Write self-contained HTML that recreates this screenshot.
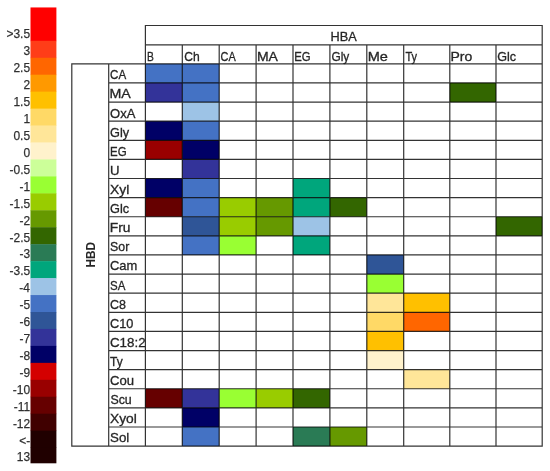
<!DOCTYPE html>
<html lang="en"><head><meta charset="utf-8"><title>HBA / HBD heat map</title>
<style>html,body{margin:0;padding:0;background:#fff}body{width:550px;height:471px;overflow:hidden}svg{display:block;filter:blur(0.4px)}text{font-family:"Liberation Sans",sans-serif;font-size:13.0px;fill:#262626;stroke:#262626;stroke-width:0.3px}.lg text{fill:#303030;stroke:#303030;stroke-width:0.25px}text.b{stroke-width:0}</style></head><body>
<svg width="550" height="471" viewBox="0 0 550 471">
<defs><filter id="soft" x="-2%" y="-2%" width="104%" height="104%"><feGaussianBlur stdDeviation="0.35"/></filter></defs>
<rect width="550" height="471" fill="#fff"/>
<g>
<rect x="30.5" y="7.45" width="25.9" height="33.75" fill="#FF0000"/>
<rect x="30.5" y="40.80" width="25.9" height="17.35" fill="#FF3D18"/>
<rect x="30.5" y="57.75" width="25.9" height="17.35" fill="#FF6600"/>
<rect x="30.5" y="74.70" width="25.9" height="17.35" fill="#FF9900"/>
<rect x="30.5" y="91.65" width="25.9" height="17.35" fill="#FFC000"/>
<rect x="30.5" y="108.60" width="25.9" height="17.35" fill="#FFD966"/>
<rect x="30.5" y="125.55" width="25.9" height="17.35" fill="#FFE699"/>
<rect x="30.5" y="142.50" width="25.9" height="17.35" fill="#FFF2CC"/>
<rect x="30.5" y="159.45" width="25.9" height="17.35" fill="#CCFF99"/>
<rect x="30.5" y="176.40" width="25.9" height="17.35" fill="#99FF33"/>
<rect x="30.5" y="193.35" width="25.9" height="17.35" fill="#99CC00"/>
<rect x="30.5" y="210.30" width="25.9" height="17.35" fill="#669900"/>
<rect x="30.5" y="227.25" width="25.9" height="17.35" fill="#336600"/>
<rect x="30.5" y="244.20" width="25.9" height="17.35" fill="#2A7B55"/>
<rect x="30.5" y="261.15" width="25.9" height="17.35" fill="#00A67C"/>
<rect x="30.5" y="278.10" width="25.9" height="17.35" fill="#9DC3E6"/>
<rect x="30.5" y="295.05" width="25.9" height="17.35" fill="#4472C4"/>
<rect x="30.5" y="312.00" width="25.9" height="17.35" fill="#2F5597"/>
<rect x="30.5" y="328.95" width="25.9" height="17.35" fill="#333399"/>
<rect x="30.5" y="345.90" width="25.9" height="17.35" fill="#000066"/>
<rect x="30.5" y="362.85" width="25.9" height="17.35" fill="#D40000"/>
<rect x="30.5" y="379.80" width="25.9" height="17.35" fill="#990000"/>
<rect x="30.5" y="396.75" width="25.9" height="17.35" fill="#660000"/>
<rect x="30.5" y="413.70" width="25.9" height="17.35" fill="#400000"/>
<rect x="30.5" y="430.65" width="25.9" height="17.35" fill="#200000"/>
<rect x="30.5" y="447.60" width="25.9" height="15.70" fill="#200000"/>
</g><g class="lg">
<text x="6.46" y="38.10" textLength="23.61" lengthAdjust="spacingAndGlyphs">&gt;3.5</text>
<text x="23.48" y="55.05" textLength="6.65" lengthAdjust="spacingAndGlyphs">3</text>
<text x="13.45" y="72.00" textLength="16.63" lengthAdjust="spacingAndGlyphs">2.5</text>
<text x="23.53" y="88.95" textLength="6.65" lengthAdjust="spacingAndGlyphs">2</text>
<text x="13.45" y="105.90" textLength="16.63" lengthAdjust="spacingAndGlyphs">1.5</text>
<text x="23.53" y="122.85" textLength="6.65" lengthAdjust="spacingAndGlyphs">1</text>
<text x="13.45" y="139.80" textLength="16.63" lengthAdjust="spacingAndGlyphs">0.5</text>
<text x="23.44" y="156.75" textLength="6.65" lengthAdjust="spacingAndGlyphs">0</text>
<text x="9.50" y="173.70" textLength="20.61" lengthAdjust="spacingAndGlyphs">-0.5</text>
<text x="19.53" y="190.65" textLength="10.63" lengthAdjust="spacingAndGlyphs">-1</text>
<text x="9.50" y="207.60" textLength="20.61" lengthAdjust="spacingAndGlyphs">-1.5</text>
<text x="19.53" y="224.55" textLength="10.63" lengthAdjust="spacingAndGlyphs">-2</text>
<text x="9.50" y="241.50" textLength="20.61" lengthAdjust="spacingAndGlyphs">-2.5</text>
<text x="19.48" y="258.45" textLength="10.63" lengthAdjust="spacingAndGlyphs">-3</text>
<text x="9.50" y="275.40" textLength="20.61" lengthAdjust="spacingAndGlyphs">-3.5</text>
<text x="19.30" y="292.35" textLength="10.63" lengthAdjust="spacingAndGlyphs">-4</text>
<text x="19.43" y="309.30" textLength="10.63" lengthAdjust="spacingAndGlyphs">-5</text>
<text x="19.48" y="326.25" textLength="10.63" lengthAdjust="spacingAndGlyphs">-6</text>
<text x="19.53" y="343.20" textLength="10.63" lengthAdjust="spacingAndGlyphs">-7</text>
<text x="19.48" y="360.15" textLength="10.63" lengthAdjust="spacingAndGlyphs">-8</text>
<text x="19.53" y="377.10" textLength="10.63" lengthAdjust="spacingAndGlyphs">-9</text>
<text x="12.81" y="394.05" textLength="17.29" lengthAdjust="spacingAndGlyphs">-10</text>
<text x="13.78" y="411.00" textLength="16.40" lengthAdjust="spacingAndGlyphs">-11</text>
<text x="12.90" y="427.95" textLength="17.29" lengthAdjust="spacingAndGlyphs">-12</text>
<text x="19.16" y="444.90" textLength="10.97" lengthAdjust="spacingAndGlyphs">&lt;-</text>
<text x="16.81" y="460.80" textLength="13.30" lengthAdjust="spacingAndGlyphs">13</text>
</g>
<g>
<rect x="145.4" y="63.85" width="36.9" height="19.11" fill="#4472C4"/>
<rect x="182.3" y="63.85" width="36.9" height="19.11" fill="#4472C4"/>
<rect x="145.4" y="82.96" width="36.9" height="19.11" fill="#333399"/>
<rect x="182.3" y="82.96" width="36.9" height="19.11" fill="#4472C4"/>
<rect x="449.8" y="82.96" width="46.2" height="19.11" fill="#336600"/>
<rect x="182.3" y="102.07" width="36.9" height="19.11" fill="#9DC3E6"/>
<rect x="145.4" y="121.19" width="36.9" height="19.11" fill="#000066"/>
<rect x="182.3" y="121.19" width="36.9" height="19.11" fill="#4472C4"/>
<rect x="145.4" y="140.30" width="36.9" height="19.11" fill="#990000"/>
<rect x="182.3" y="140.30" width="36.9" height="19.11" fill="#000066"/>
<rect x="182.3" y="159.41" width="36.9" height="19.11" fill="#333399"/>
<rect x="145.4" y="178.52" width="36.9" height="19.11" fill="#000066"/>
<rect x="182.3" y="178.52" width="36.9" height="19.11" fill="#4472C4"/>
<rect x="293.0" y="178.52" width="36.9" height="19.11" fill="#00A67C"/>
<rect x="145.4" y="197.63" width="36.9" height="19.11" fill="#660000"/>
<rect x="182.3" y="197.63" width="36.9" height="19.11" fill="#4472C4"/>
<rect x="219.2" y="197.63" width="36.9" height="19.11" fill="#99CC00"/>
<rect x="256.1" y="197.63" width="36.9" height="19.11" fill="#669900"/>
<rect x="293.0" y="197.63" width="36.9" height="19.11" fill="#00A67C"/>
<rect x="329.9" y="197.63" width="36.9" height="19.11" fill="#336600"/>
<rect x="182.3" y="216.75" width="36.9" height="19.11" fill="#2F5597"/>
<rect x="219.2" y="216.75" width="36.9" height="19.11" fill="#99CC00"/>
<rect x="256.1" y="216.75" width="36.9" height="19.11" fill="#669900"/>
<rect x="293.0" y="216.75" width="36.9" height="19.11" fill="#9DC3E6"/>
<rect x="496.0" y="216.75" width="46.2" height="19.11" fill="#336600"/>
<rect x="182.3" y="235.86" width="36.9" height="19.11" fill="#4472C4"/>
<rect x="219.2" y="235.86" width="36.9" height="19.11" fill="#99FF33"/>
<rect x="293.0" y="235.86" width="36.9" height="19.11" fill="#00A67C"/>
<rect x="366.8" y="254.97" width="36.9" height="19.11" fill="#2F5597"/>
<rect x="366.8" y="274.08" width="36.9" height="19.11" fill="#99FF33"/>
<rect x="366.8" y="293.19" width="36.9" height="19.11" fill="#FFE699"/>
<rect x="403.7" y="293.19" width="46.1" height="19.11" fill="#FFC000"/>
<rect x="366.8" y="312.31" width="36.9" height="19.11" fill="#FFD966"/>
<rect x="403.7" y="312.31" width="46.1" height="19.11" fill="#FF6600"/>
<rect x="366.8" y="331.42" width="36.9" height="19.11" fill="#FFC000"/>
<rect x="366.8" y="350.53" width="36.9" height="19.11" fill="#FFF2CC"/>
<rect x="403.7" y="369.64" width="46.1" height="19.11" fill="#FFE699"/>
<rect x="145.4" y="388.75" width="36.9" height="19.11" fill="#660000"/>
<rect x="182.3" y="388.75" width="36.9" height="19.11" fill="#333399"/>
<rect x="219.2" y="388.75" width="36.9" height="19.11" fill="#99FF33"/>
<rect x="256.1" y="388.75" width="36.9" height="19.11" fill="#99CC00"/>
<rect x="293.0" y="388.75" width="36.9" height="19.11" fill="#336600"/>
<rect x="182.3" y="407.87" width="36.9" height="19.11" fill="#000066"/>
<rect x="182.3" y="426.98" width="36.9" height="19.11" fill="#4472C4"/>
<rect x="293.0" y="426.98" width="36.9" height="19.11" fill="#2A7B55"/>
<rect x="329.9" y="426.98" width="36.9" height="19.11" fill="#669900"/>
</g>
<path d="M71.8 63.85H542.2M108.7 82.96H542.2M108.7 102.07H542.2M108.7 121.19H542.2M108.7 140.30H542.2M108.7 159.41H542.2M108.7 178.52H542.2M108.7 197.63H542.2M108.7 216.75H542.2M108.7 235.86H542.2M108.7 254.97H542.2M108.7 274.08H542.2M108.7 293.19H542.2M108.7 312.31H542.2M108.7 331.42H542.2M108.7 350.53H542.2M108.7 369.64H542.2M108.7 388.75H542.2M108.7 407.87H542.2M108.7 426.98H542.2M71.8 446.09H542.2M145.4 25.5H542.2M145.4 44.8H542.2M71.8 63.85V446.09M108.7 63.85V446.09M145.4 25.5V446.09M182.3 44.8V446.09M219.2 44.8V446.09M256.1 44.8V446.09M293.0 44.8V446.09M329.9 44.8V446.09M366.8 44.8V446.09M403.7 44.8V446.09M449.8 44.8V446.09M496.0 44.8V446.09M542.2 25.5V446.09" fill="none" stroke="#000" stroke-width="1.2" stroke-opacity="0.8" stroke-linecap="square" filter="url(#soft)"/>
<text x="330.52" y="41.20" textLength="26.16" lengthAdjust="spacingAndGlyphs">HBA</text>
<text x="147.02" y="60.55" textLength="6.86" lengthAdjust="spacingAndGlyphs">B</text>
<text x="184.15" y="60.55" textLength="15.47" lengthAdjust="spacingAndGlyphs">Ch</text>
<text x="220.60" y="60.55" textLength="15.15" lengthAdjust="spacingAndGlyphs">CA</text>
<text x="256.92" y="60.55" textLength="21.03" lengthAdjust="spacingAndGlyphs">MA</text>
<text x="294.23" y="60.55" textLength="16.37" lengthAdjust="spacingAndGlyphs">EG</text>
<text x="331.46" y="60.55" textLength="17.84" lengthAdjust="spacingAndGlyphs">Gly</text>
<text x="367.78" y="60.55" textLength="20.20" lengthAdjust="spacingAndGlyphs">Me</text>
<text x="405.50" y="60.55" textLength="11.62" lengthAdjust="spacingAndGlyphs">Ty</text>
<text x="450.52" y="60.55" textLength="21.80" lengthAdjust="spacingAndGlyphs">Pro</text>
<text x="497.22" y="60.55" textLength="18.87" lengthAdjust="spacingAndGlyphs">Glc</text>
<text x="110.07" y="79.36" textLength="16.09" lengthAdjust="spacingAndGlyphs">CA</text>
<text x="109.50" y="98.47" textLength="21.35" lengthAdjust="spacingAndGlyphs">MA</text>
<text x="110.05" y="117.59" textLength="25.33" lengthAdjust="spacingAndGlyphs">OxA</text>
<text x="110.01" y="136.70" textLength="19.09" lengthAdjust="spacingAndGlyphs">Gly</text>
<text x="110.02" y="155.81" textLength="16.60" lengthAdjust="spacingAndGlyphs">EG</text>
<text x="109.94" y="174.92" textLength="9.52" lengthAdjust="spacingAndGlyphs">U</text>
<text x="110.03" y="194.03" textLength="19.29" lengthAdjust="spacingAndGlyphs">Xyl</text>
<text x="110.01" y="213.15" textLength="19.08" lengthAdjust="spacingAndGlyphs">Glc</text>
<text x="109.84" y="232.26" textLength="20.67" lengthAdjust="spacingAndGlyphs">Fru</text>
<text x="110.08" y="251.37" textLength="19.19" lengthAdjust="spacingAndGlyphs">Sor</text>
<text x="110.00" y="270.48" textLength="27.34" lengthAdjust="spacingAndGlyphs">Cam</text>
<text x="110.12" y="289.59" textLength="15.37" lengthAdjust="spacingAndGlyphs">SA</text>
<text x="110.03" y="308.71" textLength="15.97" lengthAdjust="spacingAndGlyphs">C8</text>
<text x="110.01" y="327.82" textLength="23.37" lengthAdjust="spacingAndGlyphs">C10</text>
<text x="109.98" y="346.93" textLength="35.62" lengthAdjust="spacingAndGlyphs">C18:2</text>
<text x="110.07" y="366.04" textLength="12.64" lengthAdjust="spacingAndGlyphs">Ty</text>
<text x="109.99" y="385.15" textLength="24.06" lengthAdjust="spacingAndGlyphs">Cou</text>
<text x="110.38" y="404.27" textLength="21.33" lengthAdjust="spacingAndGlyphs">Scu</text>
<text x="110.03" y="423.38" textLength="26.86" lengthAdjust="spacingAndGlyphs">Xyol</text>
<text x="110.04" y="442.49" textLength="19.22" lengthAdjust="spacingAndGlyphs">Sol</text>
<text transform="translate(95.0 267.54) rotate(-90)" class="b" font-weight="bold" style="font-size:13.5px" textLength="25.57" lengthAdjust="spacingAndGlyphs">HBD</text>
</svg></body></html>
